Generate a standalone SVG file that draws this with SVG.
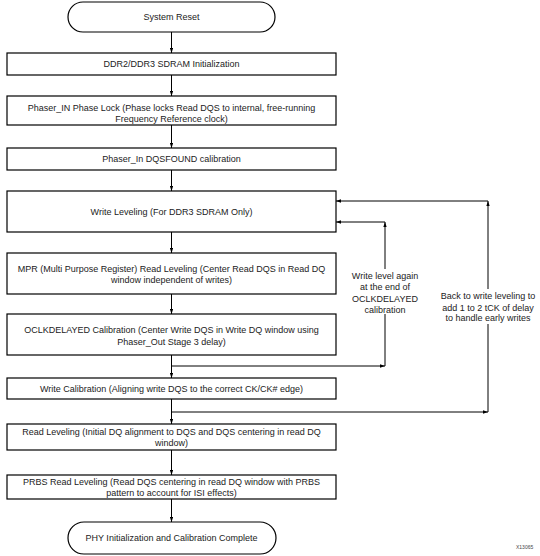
<svg xmlns="http://www.w3.org/2000/svg" width="540" height="556" viewBox="0 0 540 556">
<defs>
<style>
.box{fill:#fff;stroke:#000;stroke-width:1.2}
.t{font-family:"Liberation Sans",Arial,sans-serif;font-size:9px;fill:#222;text-anchor:middle}
.ln{fill:none;stroke:#000;stroke-width:1}
.id{font-family:"Liberation Sans",Arial,sans-serif;font-size:5px;fill:#444}
</style>
<marker id="ah" viewBox="0 0 6 4" refX="6" refY="2" markerWidth="5" markerHeight="3.4" markerUnits="userSpaceOnUse" orient="auto">
<path d="M0,0 L6,2 L0,4 Z" fill="#000"/>
</marker>
</defs>
<rect width="540" height="556" fill="#fff"/>
<g id="connectors">
<path class="ln" d="M171.5,32 V53" marker-end="url(#ah)"/>
<path class="ln" d="M171.5,75 V96" marker-end="url(#ah)"/>
<path class="ln" d="M171.5,125 V148" marker-end="url(#ah)"/>
<path class="ln" d="M171.5,170 V191" marker-end="url(#ah)"/>
<path class="ln" d="M171.5,232 V253" marker-end="url(#ah)"/>
<path class="ln" d="M171.5,294 V314" marker-end="url(#ah)"/>
<path class="ln" d="M171.5,355 V378" marker-end="url(#ah)"/>
<path class="ln" d="M171.5,399 V424" marker-end="url(#ah)"/>
<path class="ln" d="M171.5,450 V475" marker-end="url(#ah)"/>
<path class="ln" d="M171.5,499 V522" marker-end="url(#ah)"/>
<path class="ln" d="M171.5,366 H385" marker-end="url(#ah)"/>
<path class="ln" d="M385,366 V314"/>
<path class="ln" d="M385,269 V222" marker-end="url(#ah)"/>
<path class="ln" d="M385,222 H336" marker-end="url(#ah)"/>
<path class="ln" d="M171.5,412 H488" marker-end="url(#ah)"/>
<path class="ln" d="M488,412 V324"/>
<path class="ln" d="M488,289 V201" marker-end="url(#ah)"/>
<path class="ln" d="M488,201 H336" marker-end="url(#ah)"/>
<text class="t" x="385" y="279">Write level again</text>
<text class="t" x="385" y="290">at the end of</text>
<text class="t" x="385" y="301.5">OCLKDELAYED</text>
<text class="t" x="385" y="312.5">calibration</text>
<text class="t" x="488" y="299">Back to write leveling to</text>
<text class="t" x="488" y="310.5">add 1 to 2 tCK of delay</text>
<text class="t" x="488" y="321">to handle early writes</text>
</g>
<g id="n_reset">
<rect class="box" x="68" y="2" width="207" height="30" rx="15" ry="15"/>
<text class="t" x="171.5" y="19.5">System Reset</text>
</g>
<g id="n_init">
<rect class="box" x="7" y="53" width="329" height="22"/>
<text class="t" x="171.5" y="67">DDR2/DDR3 SDRAM Initialization</text>
</g>
<g id="n_phaselock">
<rect class="box" x="7" y="96" width="329" height="29"/>
<text class="t" x="171.5" y="110.5">Phaser_IN Phase Lock (Phase locks Read DQS to internal, free-running</text>
<text class="t" x="171.5" y="121.5">Frequency Reference clock)</text>
</g>
<g id="n_dqsfound">
<rect class="box" x="7" y="148" width="329" height="22"/>
<text class="t" x="171.5" y="162">Phaser_In DQSFOUND calibration</text>
</g>
<g id="n_wl">
<rect class="box" x="7" y="191" width="329" height="41"/>
<text class="t" x="171.5" y="215">Write Leveling (For DDR3 SDRAM Only)</text>
</g>
<g id="n_mpr">
<rect class="box" x="7" y="253" width="329" height="41"/>
<text class="t" x="171.5" y="271.5">MPR (Multi Purpose Register) Read Leveling (Center Read DQS in Read DQ</text>
<text class="t" x="171.5" y="283">window independent of writes)</text>
</g>
<g id="n_oclk">
<rect class="box" x="7" y="314" width="329" height="41"/>
<text class="t" x="171.5" y="333">OCLKDELAYED Calibration  (Center Write DQS in Write DQ window using</text>
<text class="t" x="171.5" y="345">Phaser_Out Stage 3 delay)</text>
</g>
<g id="n_wcal">
<rect class="box" x="7" y="378" width="329" height="21"/>
<text class="t" x="171.5" y="391.5">Write Calibration (Aligning write DQS to the correct CK/CK# edge)</text>
</g>
<g id="n_rl">
<rect class="box" x="7" y="424" width="329" height="26"/>
<text class="t" x="171.5" y="434.5">Read Leveling (Initial DQ alignment to DQS and DQS centering in read DQ</text>
<text class="t" x="171.5" y="445.5">window)</text>
</g>
<g id="n_prbs">
<rect class="box" x="7" y="475" width="329" height="24"/>
<text class="t" x="171.5" y="484.5">PRBS Read Leveling (Read DQS centering in read DQ window with PRBS</text>
<text class="t" x="171.5" y="495.5">pattern to account for ISI effects)</text>
</g>
<g id="n_done">
<rect class="box" x="68" y="522" width="208" height="32" rx="16" ry="16"/>
<text class="t" x="171.5" y="541">PHY Initialization and Calibration Complete</text>
</g>
<text class="id" x="516" y="549">X13065</text>
</svg>
